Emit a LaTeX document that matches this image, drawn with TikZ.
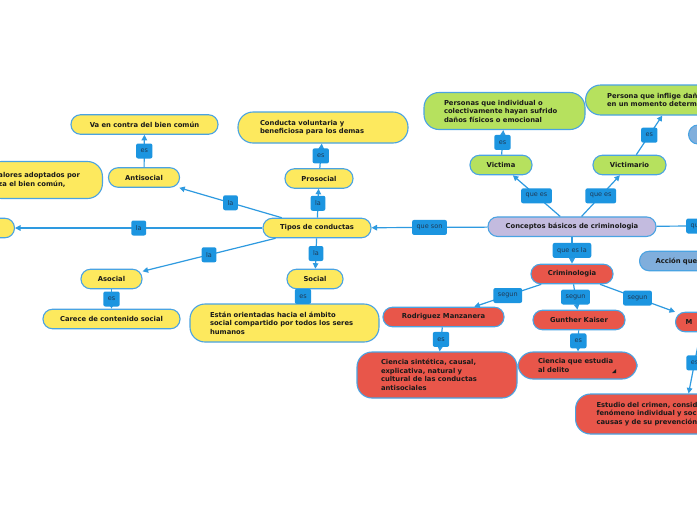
\documentclass[tikz,border=0pt]{standalone}
\usepackage{fontspec}
\newfontfamily\dvs{DejaVu Sans}
\usetikzlibrary{arrows.meta}
\hyphenpenalty=10000
\exhyphenpenalty=10000
\definecolor{yel}{HTML}{FDE95E}
\definecolor{grn}{HTML}{B6E15E}
\definecolor{rd}{HTML}{E8564A}
\definecolor{lav}{HTML}{C3BBDF}
\definecolor{bluen}{HTML}{80AEDC}
\definecolor{bord}{HTML}{4AA3E2}
\definecolor{linec}{HTML}{2E9AE0}
\definecolor{lblc}{HTML}{1C95E0}
\definecolor{lbltxt}{HTML}{1F3A56}
\definecolor{txtc}{HTML}{1A1A1A}
\tikzset{
  base/.style={draw=bord, line width=1.1pt, text=txtc,
    font=\dvs\bfseries\fontsize{6.8}{8.5}\selectfont,
    rounded corners=9.5pt, minimum height=19.5pt, inner xsep=6pt, inner ysep=2pt},
  multi/.style={base, rounded corners=15pt, align=left},
  yn/.style={fill=yel},
  gn/.style={fill=grn},
  rn/.style={fill=rd},
  ln/.style={fill=lav},
  bn/.style={fill=bluen},
  lbl/.style={fill=lblc, text=lbltxt, font=\dvs\fontsize{6.5}{7.5}\selectfont,
    rounded corners=2pt, inner xsep=4.5pt, inner ysep=0pt, minimum height=15pt},
  conn/.style={draw=linec, line width=1.2pt, -{Triangle[length=5.5pt,width=5.5pt]}},
  plain/.style={draw=linec, line width=1.2pt}
}
\begin{document}
\begin{tikzpicture}[x=1pt,y=-1pt]
\useasboundingbox (0,0) rectangle (697,520);
\clip (0,0) rectangle (697,520);
\fill[white] (0,0) rectangle (697,520);

% ---- left branch
\node[base,yn,minimum width=147pt] (va) at (144.5,124.5) {Va en contra del bien común};
\node[base,yn,minimum width=71pt] (antisocial) at (144,177.5) {Antisocial};
\node[multi,yn,minimum height=37pt,text width=92pt,inner xsep=12pt,anchor=east] (valores) at (103,180) {alores adoptados por\\za el bien común,};
\node[base,yn,minimum width=60pt,anchor=east] (leftnode) at (15,228) {};
\node[base,yn,minimum width=108pt] (tipos) at (317,228) {Tipos de conductas};
\node[base,yn,minimum width=68pt] (prosocial) at (319,178.5) {Prosocial};
\node[multi,yn,minimum height=31pt,text width=126pt,inner xsep=22pt] (conducta) at (323,127.5) {Conducta voluntaria y\\beneficiosa para los demas};
\node[base,yn,minimum width=61pt] (asocial) at (111.5,279) {Asocial};
\node[base,yn,minimum width=137pt] (carece) at (111.5,319) {Carece de contenido social};
\node[base,yn,minimum width=56pt] (social) at (315,279) {Social};
\node[multi,yn,minimum height=38pt,text width=149pt,inner xsep=20pt] (estan) at (284.5,323) {Están orientadas hacia el ámbito\\social compartido por todos los seres\\humanos};

% ---- right branch
\node[base,ln,minimum width=168pt] (conceptos) at (572,226.7) {Conceptos básicos de criminologia};
\node[base,gn,minimum width=62pt] (victima) at (501,165) {Victima};
\node[base,gn,minimum width=73pt] (victimario) at (629.5,165) {Victimario};
\node[multi,gn,minimum height=37pt,text width=121pt,inner xsep=20pt] (personas) at (504.5,111) {Personas que individual o\\colectivamente hayan sufrido\\daños físicos o emocional};
\node[multi,gn,minimum height=30pt,text width=131pt,inner xsep=21.5pt,anchor=west] (persona) at (585,100) {Persona que inflige dañ\\en un momento determ};
\node[base,bn,minimum width=60pt,minimum height=19pt,anchor=west] (bcirc) at (688,134.5) {};
\node[base,bn,text width=70pt,inner xsep=16pt,align=left,anchor=west] (accion) at (639,261) {Acción que};
\node[base,rn,minimum width=82pt] (crim) at (572,274) {Criminologia};
\node[base,rn,minimum width=121pt] (rodriguez) at (443.5,317) {Rodriguez Manzanera};
\node[base,rn,minimum width=92pt] (gunther) at (579,320) {Gunther Kaiser};
\node[base,rn,text width=34pt,inner xsep=10pt,align=left,anchor=west] (mnode) at (675,322) {M};
\node[multi,rn,minimum height=46pt,text width=112pt,inner xsep=24pt] (ciencia1) at (437,375) {Ciencia sintética, causal,\\explicativa, natural y\\cultural de las conductas\\antisociales};
\node[multi,rn,minimum height=27pt,text width=79pt,inner xsep=20pt] (ciencia2) at (577.5,365.5) {Ciencia que estudia\\al delito};
\node[multi,rn,minimum height=40pt,text width=176pt,inner xsep=21pt,anchor=west] (estudio) at (575,414) {Estudio del crimen, consid\\fenómeno individual y soc\\causas y de su prevención};
\fill[txtc] (612,373) -- (616,373) -- (616,369) -- cycle;

% ---- connectors
\draw[conn] (conceptos) -- node[lbl]{que son} (tipos);
\draw[conn] (tipos) -- node[lbl]{la} (antisocial);
\draw[conn] (tipos) -- node[lbl]{la} (prosocial);
\draw[conn] (tipos) -- node[lbl]{la} (asocial);
\draw[conn] (tipos) -- node[lbl]{la} (social);
\draw[conn] (tipos) -- node[lbl]{la} (leftnode);
\draw[conn] (antisocial) -- node[lbl]{es} (va);
\draw[conn] (prosocial) -- node[lbl]{es} (conducta);
\draw[conn] (asocial) -- node[lbl]{es} (carece);
\draw[conn] (social) -- node[lbl]{es} (estan);
\draw[conn] (conceptos) -- node[lbl]{que es} (victima);
\draw[conn] (conceptos) -- node[lbl]{que es} (victimario);
\draw[conn] (victima) -- node[lbl]{es} (personas);
\draw[conn] (victimario) -- node[lbl]{es} (persona);
\draw[conn] (conceptos) -- node[lbl]{que es la} (crim);
\draw[conn] (crim) -- node[lbl]{segun} (rodriguez);
\draw[conn] (crim) -- node[lbl]{segun} (gunther);
\draw[conn] (crim) -- node[lbl]{segun} (mnode);
\draw[conn] (rodriguez) -- node[lbl]{es} (ciencia1);
\draw[conn] (gunther) -- node[lbl]{es} (ciencia2);
\draw[conn] (mnode) -- node[lbl]{es} (estudio);
\node[lbl,anchor=west] (qlbl) at (686,226) {qu};
\draw[plain] (conceptos) -- (qlbl);
\end{tikzpicture}
\end{document}
